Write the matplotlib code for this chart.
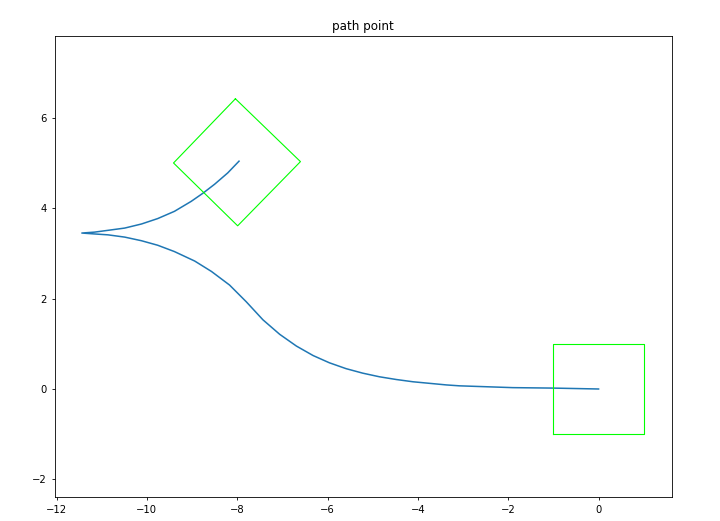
import matplotlib
matplotlib.use("Agg")
import matplotlib.pyplot as plt

# path points (forward leg, then backward leg after the cusp)
path_x = [0.0, -1.01, -1.90, -3.08, -3.37, -4.11, -4.48, -4.85, -5.22, -5.59,
          -5.96, -6.32, -6.69, -7.06, -7.43, -7.80, -8.17, -8.57, -8.94,
          -9.39, -9.76, -10.12, -10.49, -10.86, -11.16, -11.44,
          -11.16, -10.86, -10.49, -10.12, -9.76, -9.39, -9.02, -8.76, -8.50,
          -8.21, -7.96]
path_y = [0.0, 0.02, 0.03, 0.07, 0.09, 0.16, 0.21, 0.27, 0.35, 0.45,
          0.58, 0.74, 0.95, 1.21, 1.53, 1.93, 2.30, 2.60, 2.83,
          3.04, 3.18, 3.28, 3.36, 3.41, 3.43, 3.45,
          3.47, 3.51, 3.56, 3.65, 3.77, 3.93, 4.15, 4.33, 4.53,
          4.78, 5.04]

# start box (axis aligned) and goal box (rotated)
start_box_x = [-1, 1, 1, -1, -1]
start_box_y = [-1, -1, 1, 1, -1]
goal_box_x = [-8.04, -6.60, -7.99, -9.41, -8.04]
goal_box_y = [6.42, 5.03, 3.61, 5.00, 6.42]

fig = plt.figure(figsize=(7.2, 5.21), dpi=100)
ax = fig.add_axes([0.076, 0.046, 0.857, 0.885])

ax.plot(path_x, path_y, color="#1f77b4", linewidth=1.1)
ax.plot(start_box_x, start_box_y, color="lime", linewidth=0.8)
ax.plot(goal_box_x, goal_box_y, color="lime", linewidth=0.8)

ax.set_xlim(-12.04, 1.62)
ax.set_ylim(-2.39, 7.81)
ax.set_xticks([-12, -10, -8, -6, -4, -2, 0])
ax.set_yticks([-2, 0, 2, 4, 6])
ax.tick_params(labelsize=7.2, length=2.5, width=0.6)
for s in ax.spines.values():
    s.set_linewidth(0.6)
ax.set_title("path point", fontsize=8.6, pad=4)

fig.savefig("out.png", dpi=100)
